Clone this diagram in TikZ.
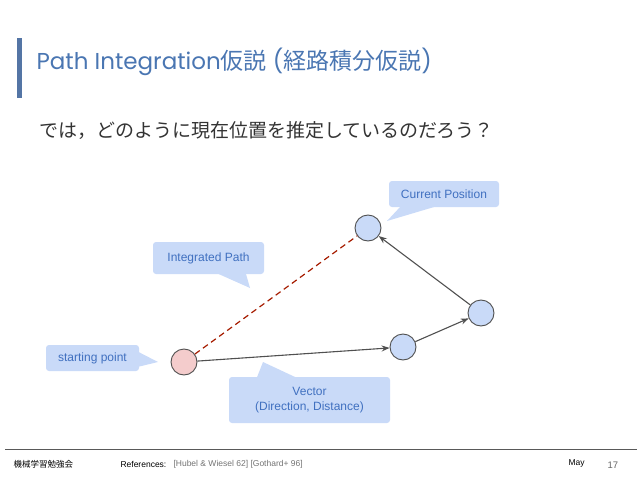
\documentclass[tikz,border=0pt]{standalone}
\usepackage{fontspec}
\setmainfont{Liberation Sans}
\newfontfamily\titlefont{Poppins}
\newfontfamily\jpfont{Noto Sans CJK JP}
\usepackage{tikz}
\usetikzlibrary{shapes,arrows.meta,positioning,calc}

\definecolor{titleblue}{RGB}{74,118,178}
\definecolor{barblue}{RGB}{84,117,165}
\definecolor{boxfill}{RGB}{201,218,248}
\definecolor{boxtext}{RGB}{64,112,192}
\definecolor{pinkfill}{RGB}{244,204,204}
\definecolor{edgegray}{RGB}{80,80,80}
\definecolor{pathred}{RGB}{166,28,0}

\begin{document}
\begin{tikzpicture}[x=1pt, y=-1pt,
    place/.style={circle, draw=edgegray, line width=0.9pt, minimum size=26pt, inner sep=0pt, fill=boxfill},
    callout/.style={fill=boxfill, rounded corners=3pt, text=boxtext, font=\fontsize{12}{15}\selectfont, align=center, inner sep=0pt},
    vec/.style={-{Stealth[length=8pt,width=6pt]}, draw=edgegray, line width=1.1pt},
    foot/.style={font=\fontsize{8.5}{10}\selectfont, anchor=west}
]
\useasboundingbox (0,0) rectangle (638,479);

% Title
\fill [barblue] (17,38) rectangle (22,98);
\node (title) at (33,62) [anchor=west, text=titleblue, font=\fontsize{23}{26}\selectfont] {\titlefont Path Integration\jpfont 仮説\titlefont{} (\jpfont 経路積分仮説\titlefont)};
\node (question) at (36,131) [anchor=west, text=black!80, font=\fontsize{19}{22}\selectfont\jpfont] {では，どのように現在位置を推定しているのだろう？};

% Positions
\node (start) at (184,362) [place, fill=pinkfill] {};
\node (mid) at (403,347) [place] {};
\node (turn) at (481,313) [place] {};
\node (cur) at (368,228) [place] {};

% Path
\draw [vec] (start) -- (mid);
\draw [vec] (mid) -- (turn);
\draw [vec] (turn) -- (cur);
\draw [pathred, dash pattern=on 6pt off 4pt, line width=1.2pt] (start) -- (cur);

% Callouts
\node (curbox) at (444,194) [callout, minimum width=110pt, minimum height=26pt] {Current Position};
\coordinate (curtip) at (387,221);
\fill [boxfill] ($(curbox.south west)+(12,-1)$) -- (curtip) -- ($(curbox.south west)+(48,-1)$) -- cycle;

\node (intbox) at (208.5,258) [callout, minimum width=111pt, minimum height=32pt] {Integrated Path};
\coordinate (inttip) at (250,288);
\fill [boxfill] ($(intbox.south west)+(64,-1)$) -- (inttip) -- ($(intbox.south west)+(93,-1)$) -- cycle;

\node (startbox) at (92.5,358) [callout, minimum width=93pt, minimum height=26pt] {starting point};
\coordinate (starttip) at (158,362);
\fill [boxfill] ($(startbox.north east)+(-1,7)$) -- (starttip) -- ($(startbox.north east)+(-1,22)$) -- cycle;

\node (vecbox) at (309.5,400) [callout, minimum width=161pt, minimum height=46pt] {Vector\\(Direction, Distance)};
\coordinate (vectip) at (263,362);
\fill [boxfill] ($(vecbox.north west)+(28,1)$) -- (vectip) -- ($(vecbox.north west)+(68,1)$) -- cycle;

% Footer
\coordinate (footl) at (5,449);
\coordinate (footr) at (637,449);
\draw [black!65, line width=0.8pt] (footl) -- (footr);
\node (club) at (10,464) [foot] {\jpfont 機械学習勉強会};
\node (refs) at (117,464) [foot] {References:};
\node (cites) at (170,464) [foot, text=black!55] {[Hubel \& Wiesel 62] [Gothard+ 96]};
\node (month) at (565,463) [foot] {May};
\node (page) at (604,465) [foot, text=black!60, font=\fontsize{9.5}{10}\selectfont] {17};

\end{tikzpicture}
\end{document}
